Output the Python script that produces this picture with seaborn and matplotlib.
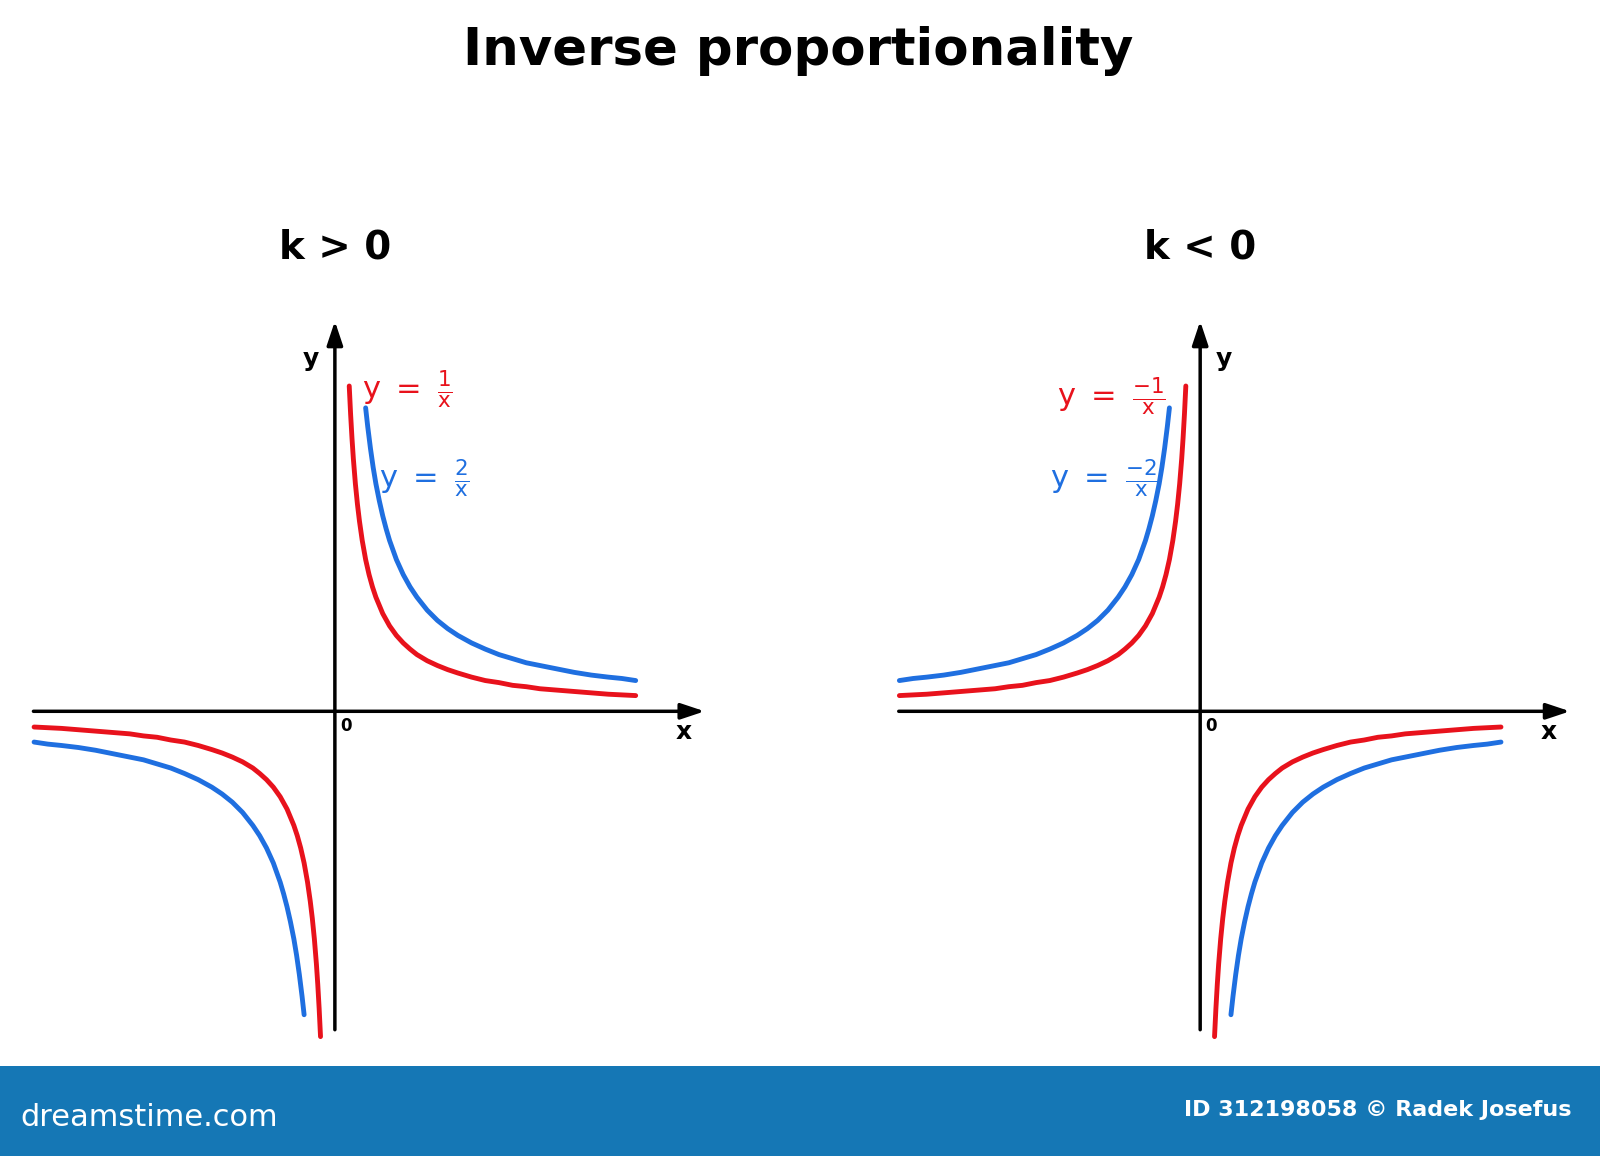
import numpy as np
import matplotlib
matplotlib.use("Agg")
import matplotlib.pyplot as plt
import seaborn as sns

sns.set_theme(style="white")
plt.rcParams['font.family'] = ['DejaVu Sans']
plt.rcParams['mathtext.fontset'] = 'dejavusans'
plt.rcParams['text.color'] = 'black'

# data
x_red = [0.21, 0.23, 0.25, 0.27, 0.3, 0.33, 0.36, 0.4, 0.45, 0.5, 0.55, 0.6, 0.7, 0.8, 0.9, 1.0, 1.1, 1.2, 1.35,
         1.5, 1.65, 1.8, 2.0, 2.2, 2.4, 2.6, 2.8, 3.0, 3.25, 3.5, 3.75, 4.0, 4.2, 4.4]
y_red = [4.76, 4.35, 4.0, 3.70, 3.33, 3.03, 2.78, 2.5, 2.22, 2.0, 1.82, 1.67, 1.43, 1.25, 1.11, 1.0, 0.91, 0.83, 0.74,
         0.67, 0.61, 0.56, 0.5, 0.45, 0.42, 0.38, 0.36, 0.33, 0.31, 0.29, 0.27, 0.25, 0.24, 0.23]
x_blue = [0.45, 0.48, 0.52, 0.56, 0.6, 0.65, 0.7, 0.75, 0.8, 0.9, 1.0, 1.1, 1.2, 1.35, 1.5, 1.65, 1.8, 2.0, 2.2,
          2.4, 2.6, 2.8, 3.0, 3.25, 3.5, 3.75, 4.0, 4.2, 4.4]
y_blue = [4.44, 4.17, 3.85, 3.57, 3.33, 3.08, 2.86, 2.67, 2.5, 2.22, 2.0, 1.82, 1.67, 1.48, 1.33, 1.21, 1.11, 1.0, 0.91,
          0.83, 0.77, 0.71, 0.67, 0.62, 0.57, 0.53, 0.5, 0.48, 0.45]
panel_titles = ["k > 0", "k < 0"]
signs = [1, -1]
red_labels = [r"$\mathrm{y\ =\ \frac{1}{x}}$", r"$\mathrm{y\ =\ \frac{-1}{x}}$"]
blue_labels = [r"$\mathrm{y\ =\ \frac{2}{x}}$", r"$\mathrm{y\ =\ \frac{-2}{x}}$"]

RED = "#e8121c"
BLUE = "#1f6fe0"
W, H = 1568.0, 1133.0

fig = plt.figure(figsize=(16, 11.56), dpi=100)
fig.patch.set_facecolor("white")

def fx(px): return px / W
def fy(py): return 1 - py / H

lefts = [20, 868]
for i, (left, s) in enumerate(zip(lefts, signs)):
    ax = fig.add_axes([fx(left), fy(1020), 680 / W, 710 / H])
    ax.set_xlim(-4.6, 5.55)
    ax.set_ylim(-4.82, 5.78)
    ax.axis("off")
    ax.annotate("", xy=(5.45, 0), xytext=(-4.45, 0),
                arrowprops=dict(arrowstyle="-|>,head_length=1.2,head_width=0.4", color="black", lw=2.5))
    ax.annotate("", xy=(0, 5.75), xytext=(0, -4.7),
                arrowprops=dict(arrowstyle="-|>,head_length=1.2,head_width=0.4", color="black", lw=2.5))
    ax.text(5.1, -0.12, "x", fontsize=18, ha="center", va="top", fontweight="bold")
    ax.text(-0.35 if s == 1 else 0.35, 5.15, "y", fontsize=18, ha="center", va="center", fontweight="bold")
    ax.text(0.08, -0.08, "0", fontsize=12, ha="left", va="top", fontweight="bold")
    xr = np.array(x_red); yr = np.array(y_red)
    xb = np.array(x_blue); yb = np.array(y_blue)
    for sx in (1, -1):
        sns.lineplot(x=sx * xb, y=s * sx * yb, ax=ax, color=BLUE, lw=3.5, sort=False, solid_capstyle="round")
        sns.lineplot(x=sx * xr, y=s * sx * yr, ax=ax, color=RED, lw=3.5, sort=False, solid_capstyle="round")
    if s == 1:
        ax.text(0.4, 4.7, red_labels[i], fontsize=22, color=RED, va="center", ha="left")
        ax.text(0.65, 3.4, blue_labels[i], fontsize=22, color=BLUE, va="center", ha="left")
    else:
        ax.text(-0.5, 4.6, red_labels[i], fontsize=22, color=RED, va="center", ha="right")
        ax.text(-0.6, 3.4, blue_labels[i], fontsize=22, color=BLUE, va="center", ha="right")

fig.text(fx(328), fy(243), panel_titles[0], fontsize=28, fontweight="bold", ha="center", va="center")
fig.text(fx(1176), fy(243), panel_titles[1], fontsize=28, fontweight="bold", ha="center", va="center")
fig.text(fx(782), fy(50), "Inverse proportionality", fontsize=37, fontweight="bold", ha="center", va="center")

fig.patches.append(plt.Rectangle((0, 0), 1, 1 - 1045 / H, transform=fig.transFigure,
                                 facecolor="#1577b5", edgecolor="none"))
fig.text(fx(20), fy(1095), "dreamstime.com", fontsize=22, color="white", ha="left", va="center")
fig.text(fx(1540), fy(1088), "ID 312198058 © Radek Josefus", fontsize=16, color="white",
         fontweight="bold", ha="right", va="center")

fig.savefig("out.png", dpi=100)
